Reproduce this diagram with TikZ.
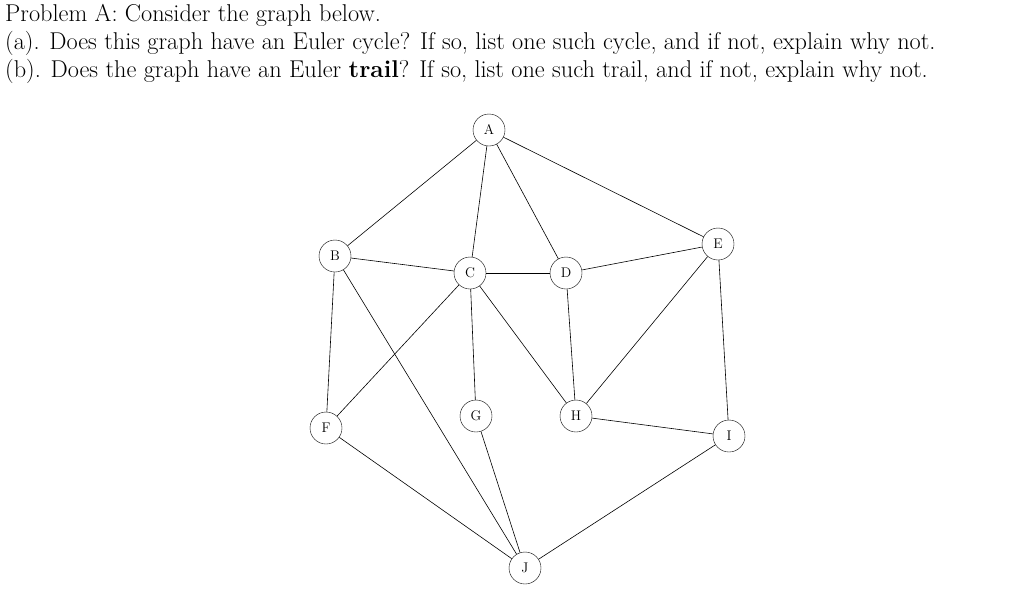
\documentclass[tikz,border=0pt]{standalone}
\begin{document}
\begin{tikzpicture}[x=1pt,y=-1pt,
  vtx/.style={circle,draw,fill=white,minimum size=32pt,inner sep=0pt,font=\fontsize{14}{14}\selectfont},
  edge/.style={draw,line width=0.6pt}]
\useasboundingbox (0,0) rectangle (1024,613);
\node[anchor=north west,align=left,inner sep=0pt,font=\fontsize{24.3}{28}\selectfont] (txt) at (5,4)
 {Problem A: Consider the graph below.\\
 (a). Does this graph have an Euler cycle? If so, list one such cycle, and if not, explain why not.\\
 (b). Does the graph have an Euler \textbf{trail}? If so, list one such trail, and if not, explain why not.};
\coordinate (pA) at (489,130);
\coordinate (pB) at (335,256);
\coordinate (pC) at (470,273);
\coordinate (pD) at (566,273);
\coordinate (pE) at (718,244);
\coordinate (pF) at (326,428);
\coordinate (pG) at (476,416);
\coordinate (pH) at (576,416);
\coordinate (pI) at (729,436);
\coordinate (pJ) at (525,568);
\foreach \n in {A,B,C,D,E,F,G,H,I,J} \node[vtx] (\n) at (p\n) {\n};
\foreach \a/\b in {A/B,A/C,A/D,A/E,B/C,B/F,B/J,C/D,C/F,C/G,C/H,D/E,D/H,E/H,E/I,H/I,G/J,F/J,I/J}
  \draw[edge] (\a) -- (\b);
\end{tikzpicture}
\end{document}
